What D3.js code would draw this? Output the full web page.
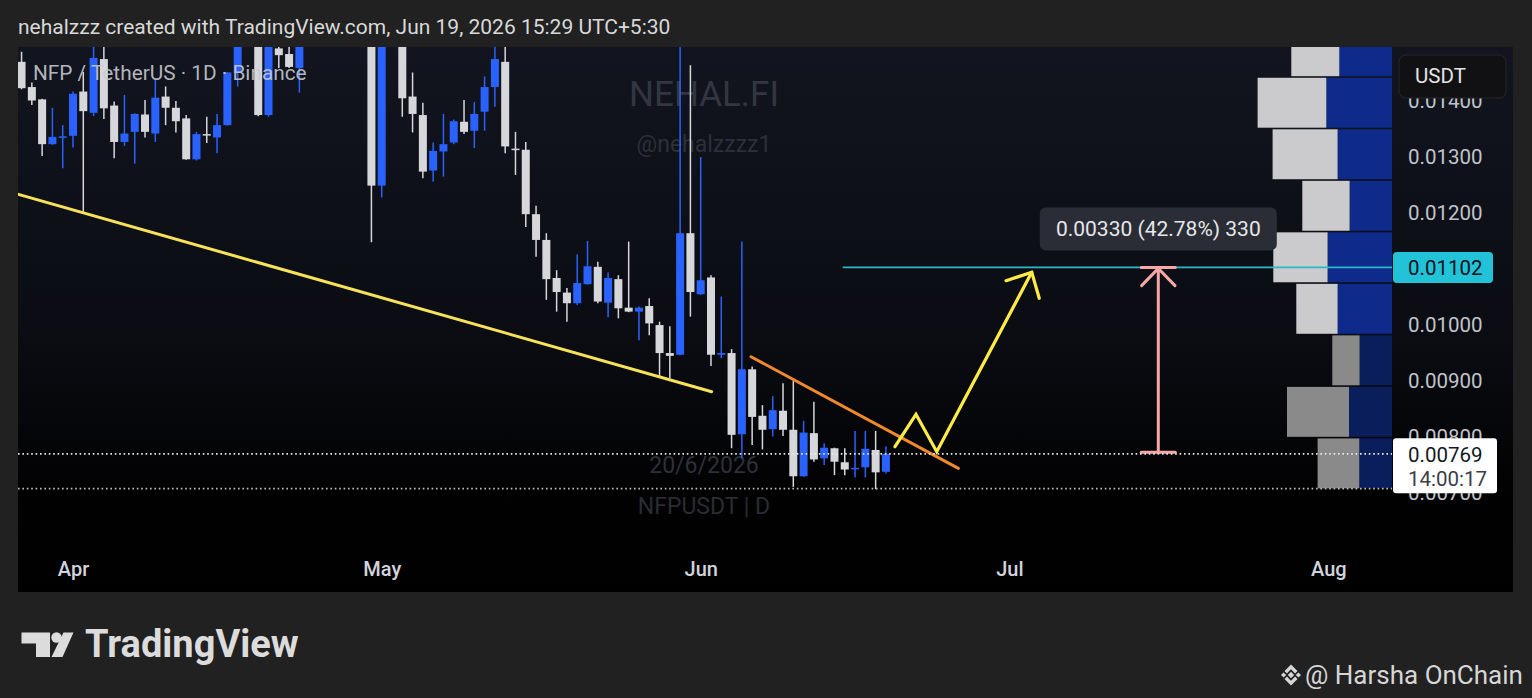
<!DOCTYPE html>
<html>
<head>
<meta charset="utf-8">
<script src="https://cdn.jsdelivr.net/npm/d3@7"></script>
<style>
  html, body { margin: 0; padding: 0; background: #212121; }
  svg { display: block; }
  text { font-family: Roboto, "Noto Sans", sans-serif; }
</style>
</head>
<body>
<svg id="chart" width="1532" height="698"></svg>
<script>
// ---------------- DATA ----------------
const dates = [
  "2026-03-27","2026-03-28","2026-03-29","2026-03-30","2026-03-31",
  "2026-04-01","2026-04-02","2026-04-03","2026-04-04","2026-04-05","2026-04-06","2026-04-07","2026-04-08","2026-04-09","2026-04-10",
  "2026-04-11","2026-04-12","2026-04-13","2026-04-14","2026-04-15","2026-04-16","2026-04-17","2026-04-18","2026-04-19","2026-04-20",
  "2026-04-21","2026-04-22","2026-04-23","2026-04-24","2026-04-25","2026-04-26","2026-04-27","2026-04-28","2026-04-29","2026-04-30",
  "2026-05-01","2026-05-02","2026-05-03","2026-05-04","2026-05-05","2026-05-06","2026-05-07","2026-05-08","2026-05-09","2026-05-10",
  "2026-05-11","2026-05-12","2026-05-13","2026-05-14","2026-05-15","2026-05-16","2026-05-17","2026-05-18","2026-05-19","2026-05-20",
  "2026-05-21","2026-05-22","2026-05-23","2026-05-24","2026-05-25","2026-05-26","2026-05-27","2026-05-28","2026-05-29","2026-05-30",
  "2026-05-31","2026-06-01","2026-06-02","2026-06-03","2026-06-04","2026-06-05","2026-06-06","2026-06-07","2026-06-08","2026-06-09",
  "2026-06-10","2026-06-11","2026-06-12","2026-06-13","2026-06-14","2026-06-15","2026-06-16","2026-06-17","2026-06-18","2026-06-19"
];
const opens = [
  0.01469,0.01424,0.01402,0.01322,0.01334,
  0.01337,0.01416,0.01378,0.01474,0.01391,0.01326,0.01344,0.01375,0.01341,0.01407,
  0.01387,0.01368,0.01295,0.01340,0.01334,0.01356,0.01449,0.01530,0.01560,0.01374,
  0.01493,0.01483,0.01458,0.01520,0.01570,0.01610,0.01580,0.01600,0.01570,0.01560,
  0.01248,0.01560,0.01560,0.01407,0.01374,0.01275,0.01309,0.01325,0.01362,0.01346,
  0.01380,0.01424,0.01469,0.01314,0.01312,0.01197,0.01151,0.01083,0.01057,0.01038,
  0.01072,0.01103,0.01039,0.01081,0.01030,0.01023,0.01033,0.00999,0.00949,0.00946,
  0.01163,0.01054,0.01084,0.00946,0.00949,0.00804,0.00920,0.00837,0.00813,0.00846,
  0.00812,0.00729,0.00806,0.00761,0.00779,0.00754,0.00742,0.00745,0.00776,0.00737
];
const highs = [
  0.01487,0.01432,0.01403,0.01387,0.01356,
  0.01416,0.01451,0.01500,0.01505,0.01398,0.01410,0.01377,0.01401,0.01437,0.01425,
  0.01399,0.01374,0.01344,0.01371,0.01376,0.01451,0.01560,0.01620,0.01600,0.01580,
  0.01510,0.01500,0.01560,0.01590,0.01640,0.01680,0.01620,0.01650,0.01610,0.01600,
  0.01610,0.01650,0.01600,0.01450,0.01396,0.01325,0.01376,0.01366,0.01401,0.01397,
  0.01443,0.01500,0.01500,0.01344,0.01326,0.01212,0.01163,0.01097,0.01065,0.01125,
  0.01149,0.01112,0.01093,0.01088,0.01148,0.01032,0.01047,0.01005,0.00997,0.01520,
  0.01463,0.01299,0.01088,0.01050,0.00956,0.01148,0.00925,0.00856,0.00872,0.00895,
  0.00899,0.00828,0.00862,0.00788,0.00780,0.00779,0.00810,0.00810,0.00810,0.00782
];
const lows = [
  0.01420,0.01392,0.01301,0.01321,0.01279,
  0.01316,0.01201,0.01372,0.01367,0.01297,0.01319,0.01287,0.01334,0.01326,0.01356,
  0.01343,0.01294,0.01293,0.01324,0.01306,0.01355,0.01425,0.01510,0.01372,0.01371,
  0.01458,0.01458,0.01414,0.01505,0.01540,0.01560,0.01530,0.01550,0.01520,0.01147,
  0.01227,0.01520,0.01371,0.01343,0.01261,0.01255,0.01264,0.01322,0.01340,0.01315,
  0.01346,0.01389,0.01306,0.01267,0.01174,0.01121,0.01044,0.01023,0.01005,0.01035,
  0.01071,0.01038,0.01013,0.01011,0.01022,0.00972,0.00981,0.00907,0.00904,0.00945,
  0.01014,0.01053,0.00926,0.00940,0.00779,0.00761,0.00785,0.00777,0.00800,0.00801,
  0.00710,0.00728,0.00755,0.00749,0.00731,0.00731,0.00727,0.00727,0.00706,0.00734
];
const closes = [
  0.01422,0.01400,0.01322,0.01335,0.01336,
  0.01412,0.01381,0.01476,0.01386,0.01326,0.01341,0.01376,0.01344,0.01405,0.01387,
  0.01363,0.01295,0.01340,0.01339,0.01356,0.01450,0.01530,0.01580,0.01374,0.01500,
  0.01481,0.01460,0.01520,0.01570,0.01610,0.01580,0.01600,0.01570,0.01560,0.01248,
  0.01560,0.01590,0.01404,0.01376,0.01273,0.01310,0.01322,0.01363,0.01344,0.01376,
  0.01424,0.01474,0.01318,0.01313,0.01197,0.01151,0.01081,0.01058,0.01038,0.01074,
  0.01104,0.01041,0.01083,0.01029,0.01023,0.01030,0.01002,0.00949,0.00944,0.01163,
  0.01058,0.01079,0.00946,0.00949,0.00803,0.00920,0.00835,0.00812,0.00847,0.00812,
  0.00729,0.00807,0.00759,0.00780,0.00755,0.00741,0.00744,0.00778,0.00736,0.00769
];

// price axis tick values and time-axis month ticks
const priceTicks = [0.014, 0.013, 0.012, 0.011, 0.010, 0.009, 0.008, 0.007];
const monthTicks = ["2026-04-01","2026-05-01","2026-06-01","2026-07-01","2026-08-01"];

// visible-range volume profile (rows from bottom to top)
const vpLow = 0.00706;
const vpRowSize = 0.00092;
const vpUpVol   = [32.7, 43.0, 32.4, 54.4, 64.4, 42.4, 54.4, 65.7, 52.7];
const vpDownVol = [41.7, 62.0, 27.3, 41.3, 54.3, 47.3, 65.0, 68.7, 48.0];
const vpValueAreaLow = 0.00982;

// drawings: [days after anchor date, price]
const anchorDate = "2026-04-01";
const yellowTrend = [[-5.41, 0.01233], [62.07, 0.00880]];
const orangeTrend = [[65.89, 0.009425], [86.04, 0.007432]];
const zigzagPath  = [[79.88, 0.007818], [81.92, 0.008396], [83.94, 0.007729], [93.17, 0.010932]];
const targetPrice = 0.01102;
const targetStartDay = 74.86;
const measureDay = 105.47;
const measureFrom = 0.00772;
const measureLabel = "0.00330 (42.78%) 330";
const lastPrice = 0.00769;
const lastPriceCountdown = "14:00:17";
const lowLinePrice = 0.00707;

// ---------------- LAYOUT ----------------
const svg = d3.select("#chart");
const panel = {x0: 18, x1: 1513, y0: 47, y1: 592};
const plotRight = 1392;

const parse = d3.utcParse("%Y-%m-%d");
const anchor = parse(anchorDate);
const dayAt = d => new Date(anchor.getTime() + d * 864e5);

const x = d3.scaleUtc()
  .domain([parse("2026-04-01"), parse("2026-08-01")])
  .range([73, 1328.4]);
const y = d3.scaleLinear()
  .domain([0.007, 0.013])
  .range([492.5, 156.5]);

const candles = dates.map((d, i) => ({
  date: parse(d), o: opens[i], h: highs[i], l: lows[i], c: closes[i]
}));

const UP = "#2962ff", DOWN = "#d6d7db";

const defs = svg.append("defs");
const grad = defs.append("linearGradient").attr("id", "bg")
  .attr("x1", 0).attr("y1", 0).attr("x2", 0).attr("y2", 1);
grad.append("stop").attr("offset", "0%").attr("stop-color", "#12151f");
grad.append("stop").attr("offset", "55%").attr("stop-color", "#0a0c12");
grad.append("stop").attr("offset", "80%").attr("stop-color", "#020203");
grad.append("stop").attr("offset", "100%").attr("stop-color", "#000000");

defs.append("clipPath").attr("id", "plotClip")
  .append("rect").attr("x", panel.x0).attr("y", panel.y0)
  .attr("width", plotRight - panel.x0).attr("height", panel.y1 - panel.y0);

// page header
svg.append("text").attr("x", 18).attr("y", 34)
  .attr("font-size", 21).attr("fill", "#d9d9d9")
  .text("nehalzzz created with TradingView.com, Jun 19, 2026 15:29 UTC+5:30");

// panel background
svg.append("rect").attr("x", panel.x0).attr("y", panel.y0)
  .attr("width", panel.x1 - panel.x0).attr("height", panel.y1 - panel.y0)
  .attr("fill", "url(#bg)");

const plot = svg.append("g").attr("clip-path", "url(#plotClip)");

// watermarks
const wm = plot.append("g").attr("text-anchor", "middle");
wm.append("text").attr("x", 704).attr("y", 94).attr("dy", "0.35em")
  .attr("font-size", 35).attr("fill", "#333640").text("NEHAL.FI");
wm.append("text").attr("x", 704).attr("y", 144).attr("dy", "0.35em")
  .attr("font-size", 23).attr("fill", "#2d3038").text("@nehalzzzz1");
wm.append("text").attr("x", 704).attr("y", 465).attr("dy", "0.35em")
  .attr("font-size", 23).attr("fill", "#2e3038").text("20/6/2026");
wm.append("text").attr("x", 704).attr("y", 506).attr("dy", "0.35em")
  .attr("font-size", 23).attr("fill", "#2a2c33").text("NFPUSDT | D");

// volume profile
const vpTotals = vpUpVol.map((u, i) => u + vpDownVol[i]);
const vx = d3.scaleLinear().domain([0, d3.max(vpTotals)]).range([0, 134.4]);
const vpRows = vpUpVol.map((u, i) => {
  const lo = vpLow + i * vpRowSize;
  return {lo, hi: lo + vpRowSize, up: u, down: vpDownVol[i], inVA: lo >= vpValueAreaLow - 1e-9};
});
const vpG = plot.append("g");
vpRows.forEach(r => {
  const top = y(r.hi) + 0.8, bot = y(r.lo) - 0.8;
  vpG.append("rect").attr("x", plotRight - vx(r.up)).attr("y", top)
    .attr("width", vx(r.up)).attr("height", bot - top)
    .attr("fill", r.inVA ? "#0e2b8c" : "#0b1e5c");
  vpG.append("rect").attr("x", plotRight - vx(r.up) - vx(r.down)).attr("y", top)
    .attr("width", vx(r.down)).attr("height", bot - top)
    .attr("fill", r.inVA ? "#cbcbce" : "#8a8a8b");
});

// candles
const cg = plot.append("g");
const bodyW = 8;
cg.selectAll("line.wick").data(candles).join("line")
  .attr("x1", d => x(d.date)).attr("x2", d => x(d.date))
  .attr("y1", d => y(d.h)).attr("y2", d => y(d.l))
  .attr("stroke", d => d.c >= d.o ? UP : DOWN).attr("stroke-width", 1.5);
cg.selectAll("rect.body").data(candles).join("rect")
  .attr("x", d => x(d.date) - bodyW / 2)
  .attr("y", d => y(Math.max(d.o, d.c)))
  .attr("width", bodyW)
  .attr("height", d => Math.max(1.5, Math.abs(y(d.o) - y(d.c))))
  .attr("fill", d => d.c >= d.o ? UP : DOWN);

// drawings
const line = d3.line().x(p => x(dayAt(p[0]))).y(p => y(p[1]));
const dg = plot.append("g").attr("fill", "none").attr("stroke-linecap", "round").attr("stroke-linejoin", "miter");
dg.append("path").attr("d", line(yellowTrend)).attr("stroke", "#f7e25a").attr("stroke-width", 3);
dg.append("path").attr("d", line(orangeTrend)).attr("stroke", "#f2892b").attr("stroke-width", 3);

// target horizontal ray
dg.append("line")
  .attr("x1", x(dayAt(targetStartDay))).attr("x2", plotRight)
  .attr("y1", y(targetPrice)).attr("y2", y(targetPrice))
  .attr("stroke", "#2bb7c9").attr("stroke-width", 1.6);

// zigzag arrow
function arrowHead(p1, p2, len, ang) {
  const a = Math.atan2(p1[1] - p2[1], p1[0] - p2[0]);
  return [
    [p2[0] + len * Math.cos(a + ang), p2[1] + len * Math.sin(a + ang)],
    p2,
    [p2[0] + len * Math.cos(a - ang), p2[1] + len * Math.sin(a - ang)]
  ];
}
dg.append("path").attr("d", line(zigzagPath)).attr("stroke", "#ffeb45").attr("stroke-width", 3.2);
{
  const n = zigzagPath.length;
  const p1 = [x(dayAt(zigzagPath[n - 2][0])), y(zigzagPath[n - 2][1])];
  const p2 = [x(dayAt(zigzagPath[n - 1][0])), y(zigzagPath[n - 1][1])];
  dg.append("path").attr("d", d3.line()(arrowHead(p1, p2, 27, 44 * Math.PI / 180)))
    .attr("stroke", "#ffeb45").attr("stroke-width", 3.2);
}

// measure arrow
{
  const mx = x(dayAt(measureDay));
  const yTop = y(targetPrice), yBot = y(measureFrom);
  const pink = "#f7a7a6";
  dg.append("line").attr("x1", mx).attr("x2", mx).attr("y1", yTop + 1).attr("y2", yBot)
    .attr("stroke", pink).attr("stroke-width", 3);
  dg.append("line").attr("x1", mx - 17).attr("x2", mx + 17).attr("y1", yTop).attr("y2", yTop)
    .attr("stroke", pink).attr("stroke-width", 3);
  dg.append("line").attr("x1", mx - 17).attr("x2", mx + 17).attr("y1", yBot).attr("y2", yBot)
    .attr("stroke", pink).attr("stroke-width", 3);
  dg.append("path").attr("d", d3.line()(arrowHead([mx, yBot], [mx, yTop + 1], 24, 44 * Math.PI / 180)))
    .attr("stroke", pink).attr("stroke-width", 3);
  const bw = 237, bh = 43;
  const bx = mx - bw / 2, by = yTop - 60;
  plot.append("rect").attr("x", bx).attr("y", by).attr("width", bw).attr("height", bh)
    .attr("rx", 6).attr("fill", "#2a2d35");
  plot.append("text").attr("x", mx).attr("y", by + bh / 2).attr("dy", "0.35em")
    .attr("text-anchor", "middle").attr("font-size", 21).attr("fill", "#e6e7ea")
    .text(measureLabel);
}

// dotted price lines
[lastPrice, lowLinePrice].forEach((p, i) => {
  plot.append("line").attr("x1", panel.x0).attr("x2", plotRight)
    .attr("y1", y(p)).attr("y2", y(p))
    .attr("stroke", i === 0 ? "#e8e8e8" : "#bdbdbd").attr("stroke-width", 1.6)
    .attr("stroke-dasharray", "1.6,2.8");
});

// legend
svg.append("text").attr("x", 33).attr("y", 73).attr("dy", "0.35em")
  .attr("font-size", 20.8).attr("fill", "#c9cbd1").attr("fill-opacity", 0.9)
  .text("NFP / TetherUS · 1D · Binance");

// price axis
const yAxis = d3.axisRight(y).tickValues(priceTicks).tickFormat(d3.format(".5f"))
  .tickSize(0).tickPadding(16);
const ya = svg.append("g").attr("transform", `translate(${plotRight},0)`).call(yAxis);
ya.select(".domain").remove();
ya.selectAll("text").attr("font-size", 20.5).attr("fill", "#c2c4ca")
  .attr("font-family", "Roboto, sans-serif");

// time axis
const xAxis = d3.axisBottom(x).tickValues(monthTicks.map(parse))
  .tickFormat(d3.utcFormat("%b")).tickSize(0).tickPadding(0);
const xa = svg.append("g").attr("transform", "translate(0,562)").call(xAxis);
xa.select(".domain").remove();
xa.selectAll("text").attr("font-size", 20).attr("font-weight", 500).attr("fill", "#d1d4dc")
  .attr("font-family", "Roboto, sans-serif");

// USDT box
svg.append("rect").attr("x", 1399).attr("y", 55).attr("width", 107).attr("height", 43)
  .attr("rx", 7).attr("fill", "#111113").attr("stroke", "#26272b").attr("stroke-width", 1);
svg.append("text").attr("x", 1415).attr("y", 76).attr("dy", "0.35em")
  .attr("font-size", 20.5).attr("fill", "#e4e4e6").text("USDT");

// target price label
svg.append("rect").attr("x", plotRight + 1).attr("y", y(targetPrice) - 15.5)
  .attr("width", 100).attr("height", 31).attr("rx", 4).attr("fill", "#22c3d9");
svg.append("text").attr("x", 1408).attr("y", y(targetPrice)).attr("dy", "0.35em")
  .attr("font-size", 20.5).attr("fill", "#0d1116").text(d3.format(".5f")(targetPrice));

// last price label
{
  const ly = y(lastPrice);
  svg.append("rect").attr("x", plotRight + 1).attr("y", ly - 15.5)
    .attr("width", 104).attr("height", 55).attr("rx", 3).attr("fill", "#ffffff");
  svg.append("text").attr("x", 1408).attr("y", ly + 0.5).attr("dy", "0.35em")
    .attr("font-size", 20.5).attr("fill", "#131722").text(d3.format(".5f")(lastPrice));
  svg.append("text").attr("x", 1408).attr("y", ly + 24.5).attr("dy", "0.35em")
    .attr("font-size", 20.5).attr("fill", "#3a3d45").text(lastPriceCountdown);
}

// footer: TradingView logo
{
  const g = svg.append("g").attr("fill", "#dcdcdc");
  g.append("path").attr("d", "M21.5,632.5 H50 V657 H36 V643.5 H21.5 Z");
  g.append("circle").attr("cx", 56.5).attr("cy", 637.5).attr("r", 5.2);
  g.append("path").attr("d", "M63.5,632.5 H73.5 L62.5,657 H51.5 Z");
  svg.append("text").attr("x", 85).attr("y", 657)
    .attr("font-family", "Lato, Inter, sans-serif").attr("font-weight", 700)
    .attr("font-size", 38).attr("fill", "#dcdcdc").text("TradingView");
}

// footer: credit
{
  const g = svg.append("g").attr("fill", "#d6d6d6").attr("transform", "translate(1291,675)");
  g.append("path").attr("d", "M-10,0 l2.6,-2.6 l2.6,2.6 l-2.6,2.6 Z");
  g.append("path").attr("d", "M10,0 l-2.6,-2.6 l-2.6,2.6 l2.6,2.6 Z");
  g.append("path").attr("d", "M0,-3.2 l3.2,3.2 l-3.2,3.2 l-3.2,-3.2 Z");
  g.append("path").attr("d", "M0,-10.5 l6.5,6.5 l-2.4,2.4 l-4.1,-4.1 l-4.1,4.1 l-2.4,-2.4 Z");
  g.append("path").attr("d", "M0,10.5 l6.5,-6.5 l-2.4,-2.4 l-4.1,4.1 l-4.1,-4.1 l-2.4,2.4 Z");
  svg.append("text").attr("x", 1305).attr("y", 684)
    .attr("font-family", "'Open Sans', 'Noto Sans', sans-serif")
    .attr("font-size", 26).attr("fill", "#d6d6d6").text("@ Harsha OnChain");
}
</script>
</body>
</html>
